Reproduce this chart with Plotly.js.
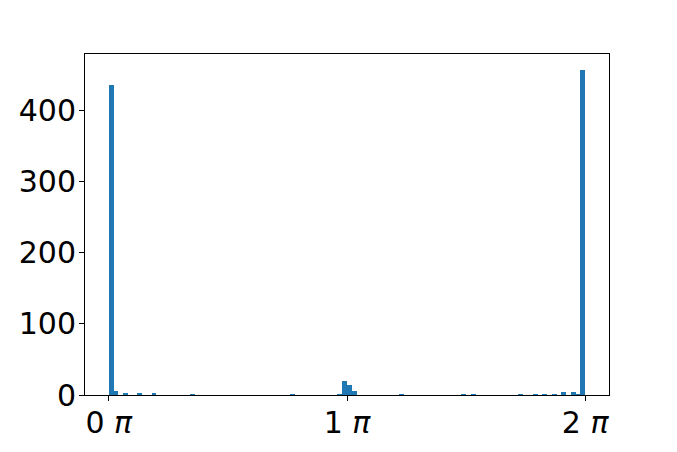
<!DOCTYPE html>
<html>
<head>
<meta charset="utf-8">
<script src="https://cdn.plot.ly/plotly-3.0.1.min.js"></script>
<style>html,body{margin:0;padding:0;background:#fff;}#chart{width:677px;height:452px;}</style>
</head>
<body>
<div id="chart"></div>
<script>
// Histogram of angles, 100 bins over [0, 2π] (x in units of π)
const binStart = 0;
const binWidth = 0.02;
const counts = [
  437, 5, 0, 3, 0, 0, 3, 0, 0, 3,
  0, 0, 0, 0, 0, 0, 0, 1, 0, 0,
  0, 0, 0, 0, 0, 0, 0, 0, 0, 0,
  0, 0, 0, 0, 0, 0, 0, 0, 1, 0,
  0, 0, 0, 0, 0, 0, 0, 0, 1, 20,
  14, 5, 0, 0, 0, 0, 0, 0, 0, 0,
  0, 1, 0, 0, 0, 0, 0, 0, 0, 0,
  0, 0, 0, 0, 1, 0, 1, 0, 0, 0,
  0, 0, 0, 0, 0, 0, 1, 0, 0, 1,
  0, 1, 0, 1, 0, 4, 0, 4, 1, 457
];
const xTickVals = [0, 1, 2];
const xTickText = ['0 <i>π</i>', '1 <i>π</i>', '2 <i>π</i>'];
const yTickVals = [0, 100, 200, 300, 400];

const xCenters = counts.map((c, i) => binStart + (i + 0.5) * binWidth);

const tickFont = {family: 'DejaVu Sans', size: 30, color: '#000'};

Plotly.newPlot('chart', [{
  type: 'bar',
  x: xCenters,
  y: counts,
  width: binWidth,
  marker: {color: '#1f77b4', line: {width: 0}},
  hoverinfo: 'none'
}], {
  width: 677, height: 452,
  margin: {l: 85, r: 68, t: 54, b: 57, pad: 0},
  paper_bgcolor: '#fff', plot_bgcolor: '#fff',
  bargap: 0,
  showlegend: false,
  xaxis: {
    range: [-0.1, 2.1],
    tickmode: 'array', tickvals: xTickVals, ticktext: xTickText,
    ticks: 'outside', ticklen: 5, tickwidth: 1, tickcolor: '#000',
    ticklabelstandoff: -4,
    showline: true, mirror: true, linecolor: '#000', linewidth: 1,
    showgrid: false, zeroline: false,
    tickfont: tickFont
  },
  yaxis: {
    range: [0, 480],
    tickmode: 'array', tickvals: yTickVals,
    ticks: 'outside', ticklen: 5, tickwidth: 1, tickcolor: '#000',
    ticklabelstandoff: -3,
    showline: true, mirror: true, linecolor: '#000', linewidth: 1,
    showgrid: false, zeroline: false,
    tickfont: tickFont
  }
}, {staticPlot: true, displayModeBar: false});
</script>
</body>
</html>
